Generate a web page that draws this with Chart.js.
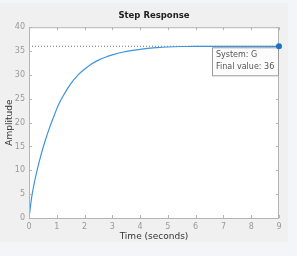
<!DOCTYPE html>
<html>
<head>
<meta charset="utf-8">
<script src="https://cdn.jsdelivr.net/npm/chart.js@4"></script>
<style>
    body { margin: 0; background: #f3f5f8; }
    #panel { position: absolute; left: 0; top: 3px; width: 288px; height: 239px; background: #f0f0f0; }
</style>
</head>
<body>
<div id="panel"><canvas id="stepChart" width="288" height="239"></canvas></div>
<script>
// step response data
const times = [0, 0.1, 0.2, 0.3, 0.45, 0.6, 0.75, 0.9, 1.05, 1.25, 1.5, 1.75, 2.0, 2.25, 2.5, 2.75, 3.0, 3.4, 3.8, 4.2, 4.6, 5.0, 5.5, 6.0, 7, 8, 9];
const amplitude = [0, 4.5, 7.6, 10.2, 13.6, 16.5, 19.1, 21.4, 23.6, 25.8, 28.1, 29.9, 31.2, 32.3, 33.1, 33.7, 34.2, 34.8, 35.2, 35.5, 35.7, 35.85, 35.95, 36, 36, 36, 36];
const finalValue = 36;
const finalTime = 9;
const xTicks = [0, 1, 2, 3, 4, 5, 6, 7, 8, 9];
const yTicks = [0, 5, 10, 15, 20, 25, 30, 35, 40];
const tipLines = ['System: G', 'Final value: 36'];

const FONT = 'DejaVu Sans';
const axisColor = '#b4b4b4';

// 흰색 플롯 영역
const plotBg = {
    id: 'plotBg',
    beforeDraw(chart) {
        const a = chart.chartArea;
        chart.ctx.save();
        chart.ctx.fillStyle = '#ffffff';
        chart.ctx.fillRect(a.left, a.top, a.right - a.left, a.bottom - a.top);
        chart.ctx.restore();
    }
};

// 안쪽 눈금, 박스, 데이터팁 그리기
const matlabBox = {
    id: 'matlabBox',
    afterDatasetsDraw(chart) {
        const ctx = chart.ctx;
        const a = chart.chartArea;
        const xs = chart.scales.x, ys = chart.scales.y;
        ctx.save();
        ctx.strokeStyle = axisColor;
        ctx.lineWidth = 1;
        ctx.strokeRect(a.left + 0.5, a.top + 0.5, a.right - a.left - 1, a.bottom - a.top);
        ctx.beginPath();
        xTicks.forEach(v => {
            const px = Math.round(xs.getPixelForValue(v)) + 0.5;
            ctx.moveTo(px, a.bottom); ctx.lineTo(px, a.bottom - 3);
            ctx.moveTo(px, a.top); ctx.lineTo(px, a.top + 3);
        });
        yTicks.forEach(v => {
            const py = Math.round(ys.getPixelForValue(v)) + 0.5;
            ctx.moveTo(a.left, py); ctx.lineTo(a.left + 3, py);
            ctx.moveTo(a.right, py); ctx.lineTo(a.right - 3, py);
        });
        ctx.stroke();

        // data tip
        const mx = xs.getPixelForValue(finalTime);
        const my = ys.getPixelForValue(finalValue);
        const bx = mx - 67, by = my + 1, bw = 67, bh = 29;
        ctx.fillStyle = '#fcfcfc';
        ctx.fillRect(bx, by, bw, bh);
        ctx.strokeStyle = '#9a9a9a';
        ctx.strokeRect(bx + 0.5, by + 0.5, bw - 1, bh - 1);
        ctx.fillStyle = '#555';
        ctx.font = '8px ' + FONT;
        ctx.textBaseline = 'middle';
        ctx.fillText(tipLines[0], bx + 4, by + 8);
        ctx.fillText(tipLines[1], bx + 4, by + 20);
        ctx.beginPath();
        ctx.fillStyle = '#1a72c7';
        ctx.arc(mx, my, 3, 0, Math.PI * 2);
        ctx.fill();
        ctx.restore();
    }
};

document.addEventListener('DOMContentLoaded', function(){
    const ctx = document.getElementById('stepChart').getContext('2d');
    new Chart(ctx, {
        type: 'line',
        data: {
            datasets: [{
                data: times.map((t, i) => ({ x: t, y: amplitude[i] })),
                borderColor: '#3d94dc',
                borderWidth: 1.2,
                pointRadius: 0,
                cubicInterpolationMode: 'monotone',
                order: 1
            }, {
                data: [{ x: 0, y: finalValue }, { x: finalTime, y: finalValue }],
                borderColor: '#777',
                borderWidth: 1,
                borderDash: [1, 2],
                pointRadius: 0,
                order: 2
            }]
        },
        options: {
            responsive: false,
            animation: false,
            layout: { padding: { left: 0, right: 9, top: 0, bottom: 0 } },
            plugins: {
                legend: { display: false },
                tooltip: { enabled: false },
                title: {
                    display: true,
                    fullSize: false,
                    text: 'Step Response',
                    color: '#222',
                    font: { family: FONT, size: 8.5, weight: 'bold' },
                    padding: { top: 8, bottom: 6 }
                }
            },
            scales: {
                x: {
                    type: 'linear',
                    min: 0, max: 9,
                    afterBuildTicks: s => { s.ticks = xTicks.map(v => ({ value: v })); },
                    afterFit: s => { s.height = 24; },
                    grid: { display: false, drawTicks: false, tickLength: 0 },
                    border: { display: false },
                    ticks: { color: '#999', font: { family: FONT, size: 8 }, padding: 4, maxRotation: 0 },
                    title: { display: true, text: 'Time (seconds)', color: '#333', font: { family: FONT, size: 9 }, padding: 0 }
                },
                y: {
                    min: 0, max: 40,
                    afterBuildTicks: s => { s.ticks = yTicks.map(v => ({ value: v })); },
                    afterFit: s => { s.width = 29; },
                    grid: { display: false, drawTicks: false, tickLength: 0 },
                    border: { display: false },
                    ticks: { color: '#999', font: { family: FONT, size: 8 }, padding: 4 },
                    title: { display: true, text: 'Amplitude', color: '#333', font: { family: FONT, size: 9 }, padding: { top: 4, bottom: 0 } }
                }
            }
        },
        plugins: [plotBg, matlabBox]
    });
});
</script>
</body>
</html>
